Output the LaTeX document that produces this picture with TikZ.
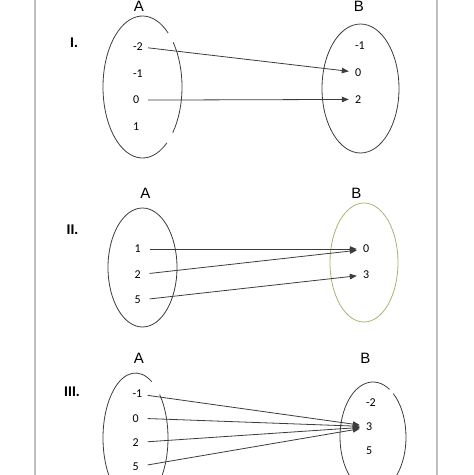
\documentclass[tikz,border=0pt]{standalone}
\usepackage{fontspec}
\setmainfont{Liberation Sans}
\newfontfamily\itemfont{Carlito}
\usetikzlibrary{positioning,arrows.meta}
\definecolor{setgray}{RGB}{60,60,60}
\definecolor{setgreen}{RGB}{170,178,115}
\definecolor{framegray}{RGB}{190,190,190}
\tikzset{
  setlabel/.style={font=\fontsize{15}{15}\selectfont},
  roman/.style={font=\fontsize{14}{14}\selectfont\bfseries},
  elem/.style={font=\itemfont\fontsize{12}{12}\selectfont, text width=11pt, align=left, inner xsep=4pt, inner ysep=3pt},
  maps/.style={-{Triangle[length=7pt,width=5.5pt]}, shorten >=2pt, draw=setgray, line width=0.8pt},
  setedge/.style={draw=setgray, line width=0.8pt},
  frameline/.style={draw=framegray, line width=1.5pt}
}
\begin{document}
\begin{tikzpicture}[x=1pt,y=-1pt,node distance=26.7pt]
\useasboundingbox (0,0) rectangle (474,475);
\draw[frameline] (35,0) -- (35,475);
\draw[frameline] (437,0) -- (437,475);

% I.
\node[roman] (NumI) at (74,43) {I.};
\node[setlabel] (SetA1) at (139,6) {A};
\node[setlabel] (SetB1) at (359,6) {B};
\draw[setedge] (142.5,87) ++(-39:39.5 and 71) arc[start angle=-39, end angle=40, x radius=39.5, y radius=71];
\draw[setedge] (142.5,87) ++(52:39.5 and 71) arc[start angle=52, end angle=310.5, x radius=39.5, y radius=71];
\draw[setedge] (360.5,88.5) ellipse[x radius=38.5, y radius=64.5];
\node[elem] (A1m2) at (138.5,46.7) {-2};
\node[elem] (A1m1) [below of=A1m2] {-1};
\node[elem] (A1z)  [below of=A1m1] {0};
\node[elem] (A1p1) [below of=A1z] {1};
\node[elem] (B1m1) at (360.5,46) {-1};
\node[elem] (B1z)  [below of=B1m1] {0};
\node[elem] (B1p2) [below of=B1z] {2};
\draw[maps] (A1m2) -- (B1z);
\draw[maps] (A1z) -- (B1p2);

% II.
\node[roman] (NumII) at (72.5,229.5) {II.};
\node[setlabel] (SetA2) at (145.5,193.5) {A};
\node[setlabel] (SetB2) at (356.5,193.5) {B};
\draw[setedge] (142.5,267.5) ellipse[x radius=34.5, y radius=59.5];
\draw[setedge, draw=setgreen] (364,262.5) ellipse[x radius=34, y radius=59.5];
\begin{scope}[node distance=25.5pt]
\node[elem] (A2p1) at (140,249) {1};
\node[elem] (A2p2) [below of=A2p1] {2};
\node[elem] (A2p5) [below of=A2p2] {5};
\node[elem] (B2z)  at (368.5,249) {0};
\node[elem] (B2p3) [below of=B2z] {3};
\end{scope}
\draw[maps] (A2p1) -- (B2z);
\draw[maps] (A2p2) -- (B2z);
\draw[maps] (A2p5) -- (B2p3);

% III.
\node[roman] (NumIII) at (72,392) {III.};
\node[setlabel] (SetA3) at (139,358) {A};
\node[setlabel] (SetB3) at (365.5,358) {B};
\draw[setedge] (135.5,438) ++(-42:32.5 and 65) arc[start angle=-42, end angle=300, x radius=32.5, y radius=65];
\draw[setedge] (373,437) ++(-52:33 and 55) arc[start angle=-52, end angle=300, x radius=33, y radius=55];
\begin{scope}[node distance=24.2pt]
\node[elem] (A3m1) at (138,394) {-1};
\node[elem] (A3z)  [below of=A3m1] {0};
\node[elem] (A3p2) [below of=A3z] {2};
\node[elem] (A3p5) [below of=A3p2] {5};
\node[elem] (B3m2) at (371.5,402.5) {-2};
\node[elem] (B3p3) [below of=B3m2] {3};
\node[elem] (B3p5) [below of=B3p3] {5};
\end{scope}
\draw[maps] (A3m1) -- (B3p3);
\draw[maps] (A3z) -- (B3p3);
\draw[maps] (A3p2) -- (B3p3);
\draw[maps] (A3p5) -- (B3p3);
\end{tikzpicture}
\end{document}
